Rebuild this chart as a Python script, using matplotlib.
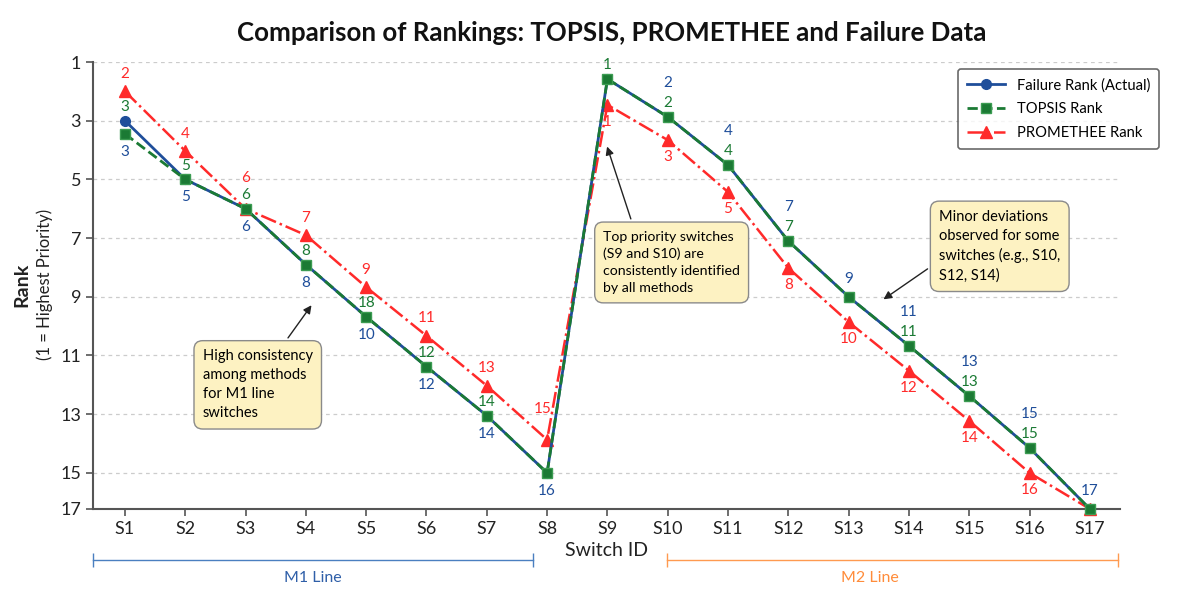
import numpy as np
import matplotlib.pyplot as plt
from matplotlib.transforms import blended_transform_factory

plt.rcParams['font.family'] = ['Lato', 'DejaVu Sans']

# Data
switches = ["S1", "S2", "S3", "S4", "S5", "S6", "S7", "S8", "S9",
            "S10", "S11", "S12", "S13", "S14", "S15", "S16", "S17"]

# plotted positions (as drawn in the reference)
failure_pos = [3.0, 5.0, 6.0, 7.9, 9.68, 11.38, 13.05, 15.0, 1.58,
               2.87, 4.51, 7.1, 9.0, 10.67, 12.38, 14.15, 17]
topsis_pos = [3.45, 5.0, 6.0, 7.9, 9.68, 11.38, 13.05, 15.0, 1.58,
              2.87, 4.51, 7.1, 9.0, 10.67, 12.38, 14.15, 17]
promethee_pos = [2.0, 4.03, 6.0, 6.9, 8.67, 10.33, 12.03, 13.87, 2.46,
                 3.66, 5.43, 8.02, 9.86, 11.52, 13.23, 15.0, 17]

# rank numbers written next to the markers
failure_labels = ["3", "5", "6", "8", "10", "12", "14", "16", "",
                  "2", "4", "7", "9", "11", "13", "15", "17"]
topsis_labels = ["3", "5", "6", "8", "18", "12", "14", "", "1",
                 "2", "4", "7", "", "11", "13", "15", ""]
promethee_labels = ["2", "4", "6", "7", "9", "11", "13", "15", "1",
                    "3", "5", "8", "10", "12", "14", "16", ""]

blue = '#1f4e9a'
green = '#1b7a34'
red = '#ff2a2a'


def squash(y):
    # the reference squeezes the 15..17 band at the bottom of the axis
    y = np.asarray(y, dtype=float)
    return np.where(y <= 15, y, 15 + (y - 15) * 0.615)


def unsquash(v):
    v = np.asarray(v, dtype=float)
    return np.where(v <= 15, v, 15 + (v - 15) / 0.615)


fig = plt.figure(figsize=(11.77, 6.02), dpi=100)
ax = fig.add_axes([0.079, 0.1545, 0.8726, 0.7425])

x = np.arange(1, len(switches) + 1)

ax.set_yscale('function', functions=(squash, unsquash))

ax.plot(x, failure_pos, color=blue, lw=2, marker='o', ms=7,
        label='Failure Rank (Actual)', zorder=3, clip_on=False)
ax.plot(x, topsis_pos, color=green, lw=2, ls='--', marker='s', ms=7.5,
        mfc=green, mec='#3c9c52', label='TOPSIS Rank', zorder=4, clip_on=False)
ax.plot(x, promethee_pos, color=red, lw=1.8, ls='-.', marker='^', ms=8,
        label='PROMETHEE Rank', zorder=2, clip_on=False)

# rank labels
for i in range(len(switches)):
    top = min(failure_pos[i], topsis_pos[i])
    bottom = max(failure_pos[i], topsis_pos[i])
    first_line = i < 8
    if topsis_labels[i]:
        ax.annotate(topsis_labels[i], (x[i], top), xytext=(0, 10),
                    textcoords='offset points', ha='center', va='center',
                    color=green, fontsize=11, zorder=6)
    if failure_labels[i]:
        if first_line:
            ax.annotate(failure_labels[i], (x[i], bottom), xytext=(0, -13),
                        textcoords='offset points', ha='center', va='center',
                        color=blue, fontsize=11, zorder=6)
        else:
            dy = 24.5 if topsis_labels[i] else 13
            ax.annotate(failure_labels[i], (x[i], top), xytext=(0, dy),
                        textcoords='offset points', ha='center', va='center',
                        color=blue, fontsize=11, zorder=6)
    if promethee_labels[i]:
        if i < 8:
            # lift the label when it would collide with the TOPSIS one
            near = abs(promethee_pos[i] - topsis_pos[i]) < 0.5 or i == 7
            dy = 22 if near else 12.5
            dx = -3 if i == 7 else 0
        else:
            dy, dx = -12.5, 0
        ax.annotate(promethee_labels[i], (x[i], promethee_pos[i]), xytext=(dx, dy),
                    textcoords='offset points', ha='center', va='center',
                    color=red, fontsize=11, zorder=6)

ax.set_xlim(0.47, 17.5)
ax.set_ylim(17, 1)
ax.set_xticks(x)
ax.set_xticklabels(switches)
ax.set_yticks([1, 3, 5, 7, 9, 11, 13, 15, 17])
ax.set_yticklabels(['1', '3', '5', '7', '9', '11', '13', '15', '17'])
ax.tick_params(axis='both', labelsize=13, colors='#222222', length=5, width=1.2)
ax.tick_params(axis='both', color='#555555')
ax.minorticks_off()

ax.yaxis.grid(True, ls=(0, (3, 3)), color='#cccccc', lw=0.9)
ax.set_axisbelow(True)
for side in ['top', 'right']:
    ax.spines[side].set_visible(False)
for side in ['left', 'bottom']:
    ax.spines[side].set_color('#555555')
    ax.spines[side].set_linewidth(1.5)

ax.set_xlabel('Switch ID', fontsize=14, labelpad=4, color='#222222')
fig.text(0.019, 0.527, 'Rank', rotation=90, ha='center', va='center',
         fontsize=14, fontweight='bold', color='#222222')
fig.text(0.038, 0.527, '(1 = Highest Priority)', rotation=90, ha='center',
         va='center', fontsize=12, color='#222222')

fig.text(0.52, 0.945, 'Comparison of Rankings: TOPSIS, PROMETHEE and Failure Data',
         ha='center', va='center', fontsize=18.6, fontweight='bold', color='#111111')

# line brackets under the axis
trans = blended_transform_factory(ax.transData, ax.transAxes)
ax.plot([0.47, 7.77], [-0.114, -0.114], transform=trans, clip_on=False,
        color='#4a7fc0', lw=1, marker='|', ms=10)
ax.text(4.12, -0.155, 'M1 Line', transform=trans, ha='center', va='center',
        fontsize=11.5, color='#2f5fa8')
ax.plot([9.99, 17.46], [-0.114, -0.114], transform=trans, clip_on=False,
        color='#ff9a50', lw=1, marker='|', ms=10)
ax.text(13.35, -0.155, 'M2 Line', transform=trans, ha='center', va='center',
        fontsize=11.5, color='#ff8c3a')

# callout boxes
box = dict(boxstyle='round,pad=0.6', fc='#fdf2c2', ec='#8a8a8a', lw=1)
ax.annotate('High consistency\namong methods\nfor M1 line\nswitches',
            xy=(4.12, 9.21), xytext=(2.29, 12.0), ha='left', va='center',
            fontsize=10.5, linespacing=1.45, bbox=box, zorder=7,
            arrowprops=dict(arrowstyle='-|>', color='#222222', lw=1,
                            relpos=(0.7, 1.0), mutation_scale=12))
ax.annotate('Top priority switches\n(S9 and S10) are\nconsistently identified\nby all methods',
            xy=(8.98, 3.79), xytext=(8.93, 7.83), ha='left', va='center',
            fontsize=10.2, linespacing=1.5, bbox=box, zorder=7,
            arrowprops=dict(arrowstyle='-|>', color='#222222', lw=1,
                            relpos=(0.23, 1.0), mutation_scale=12))
ax.annotate('Minor deviations\nobserved for some\nswitches (e.g., S10,\nS12, S14)',
            xy=(13.54, 9.14), xytext=(14.5, 7.28), ha='left', va='center',
            fontsize=10.5, linespacing=1.45, bbox=box, zorder=7,
            arrowprops=dict(arrowstyle='-|>', color='#222222', lw=1,
                            relpos=(0.0, 0.3), mutation_scale=12))

leg = ax.legend(loc='upper right', bbox_to_anchor=(1.045, 1.0), fontsize=10.6,
                frameon=True, fancybox=True, edgecolor='#444444', handlelength=2.6,
                borderpad=0.6, labelspacing=0.65)
leg.get_frame().set_linewidth(1.2)

fig.savefig('out.png', dpi=100)
